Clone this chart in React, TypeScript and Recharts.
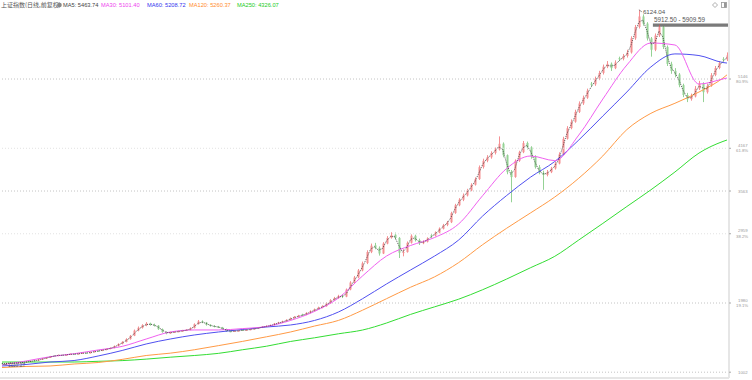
import React from "react";
import {
  Bar,
  ComposedChart,
  Line,
  ReferenceArea,
  ReferenceDot,
  ReferenceLine,
  XAxis,
  YAxis,
} from "recharts";

// [open, high, low, close]
const candles: [number, number, number, number][] = [
  [1130, 1138, 1110.27, 1120], [1120, 1134, 1116, 1128], [1127, 1141, 1122, 1135], [1136, 1140, 1121, 1126],
  [1126, 1143, 1123, 1138], [1146, 1149, 1132, 1142], [1141, 1156, 1137, 1150], [1150, 1166, 1145, 1160],
  [1170, 1175, 1158, 1166], [1166, 1186, 1161, 1180], [1180, 1200, 1175, 1195], [1196, 1214, 1189, 1208],
  [1208, 1232, 1203, 1226], [1238, 1241, 1220, 1234], [1233, 1252, 1228, 1245], [1246, 1250, 1231, 1238],
  [1238, 1258, 1234, 1252], [1252, 1267, 1246, 1260], [1262, 1266, 1248, 1254], [1254, 1274, 1250, 1268],
  [1268, 1282, 1263, 1275], [1277, 1281, 1263, 1270], [1270, 1294, 1266, 1288], [1288, 1302, 1283, 1296],
  [1308, 1312, 1290, 1305], [1305, 1325, 1300, 1318], [1318, 1337, 1312, 1330], [1331, 1352, 1325, 1345],
  [1345, 1380, 1340, 1372], [1372, 1410, 1366, 1400], [1402, 1440, 1395, 1430], [1430, 1482, 1424, 1470],
  [1470, 1528, 1462, 1515], [1518, 1605, 1512, 1590], [1592, 1648, 1580, 1630], [1630, 1680, 1618, 1665],
  [1666, 1710, 1652, 1690], [1692, 1702, 1660, 1672], [1670, 1688, 1648, 1660], [1660, 1668, 1600, 1610],
  [1612, 1620, 1560, 1570], [1570, 1580, 1538, 1550], [1550, 1575, 1544, 1565], [1566, 1584, 1556, 1575],
  [1576, 1590, 1568, 1580], [1580, 1600, 1574, 1590], [1590, 1610, 1584, 1600], [1600, 1636, 1595, 1625],
  [1626, 1692, 1620, 1680], [1682, 1740, 1675, 1720], [1722, 1735, 1695, 1705], [1705, 1712, 1660, 1670],
  [1672, 1680, 1645, 1655], [1655, 1668, 1636, 1645], [1648, 1656, 1626, 1635], [1636, 1642, 1600, 1610],
  [1610, 1618, 1570, 1580], [1580, 1592, 1568, 1578], [1578, 1595, 1572, 1585], [1586, 1598, 1578, 1590],
  [1602, 1608, 1584, 1598], [1599, 1612, 1588, 1600], [1600, 1620, 1594, 1610], [1610, 1628, 1604, 1620],
  [1620, 1640, 1615, 1632], [1632, 1652, 1626, 1645], [1645, 1664, 1638, 1655], [1656, 1676, 1650, 1668],
  [1668, 1698, 1662, 1690], [1692, 1714, 1684, 1705], [1704, 1730, 1698, 1720], [1720, 1750, 1714, 1740],
  [1740, 1775, 1734, 1765], [1765, 1796, 1758, 1785], [1786, 1812, 1778, 1800], [1820, 1828, 1796, 1815],
  [1815, 1850, 1808, 1840], [1840, 1876, 1832, 1865], [1866, 1902, 1858, 1890], [1890, 1928, 1882, 1915],
  [1918, 1948, 1905, 1935], [1935, 1988, 1928, 1975], [1976, 2034, 1968, 2020], [2020, 2066, 2010, 2050],
  [2050, 2096, 2040, 2080], [2082, 2100, 2050, 2070], [2070, 2185, 2062, 2170], [2172, 2288, 2160, 2270],
  [2270, 2362, 2258, 2340], [2342, 2460, 2330, 2440], [2440, 2565, 2428, 2540], [2545, 2725, 2530, 2700],
  [2700, 2820, 2685, 2790], [2795, 2830, 2740, 2760], [2760, 2780, 2650, 2680], [2680, 2840, 2672, 2820],
  [2820, 2925, 2810, 2900], [2902, 2980, 2890, 2940], [2945, 2975, 2880, 2900], [2900, 2912, 2616, 2690],
  [2688, 2740, 2640, 2700], [2700, 2850, 2692, 2830], [2832, 2950, 2820, 2930], [2930, 2945, 2850, 2870],
  [2870, 2890, 2800, 2825], [2825, 2866, 2812, 2845], [2845, 2908, 2836, 2890], [2938, 2956, 2900, 2930],
  [2932, 2992, 2922, 2975], [2976, 3048, 2966, 3030], [3030, 3098, 3020, 3080], [3082, 3140, 3066, 3120],
  [3122, 3270, 3110, 3250], [3252, 3382, 3240, 3360], [3362, 3462, 3348, 3440], [3440, 3528, 3420, 3500],
  [3500, 3594, 3486, 3570], [3572, 3672, 3560, 3650], [3652, 3756, 3640, 3730], [3732, 3924, 3720, 3900],
  [3902, 4020, 3880, 3990], [3992, 4070, 3970, 4040], [4040, 4124, 4020, 4100], [4102, 4178, 4080, 4150],
  [4150, 4335, 4135, 4230], [4232, 4250, 4040, 4070], [4070, 4080, 3800, 3830], [3830, 3860, 3404, 3760],
  [3762, 4010, 3750, 3990], [3990, 4132, 3975, 4110], [4112, 4270, 4098, 4240], [4242, 4262, 4150, 4180],
  [4180, 4196, 4020, 4050], [4050, 4068, 3880, 3900], [3902, 3930, 3800, 3820], [3820, 3850, 3580, 3790],
  [3790, 3860, 3770, 3830], [3830, 3904, 3816, 3880], [3882, 3978, 3866, 3950], [3952, 4110, 3940, 4080],
  [4082, 4330, 4070, 4300], [4302, 4480, 4290, 4450], [4452, 4575, 4436, 4540], [4542, 4712, 4528, 4680],
  [4682, 4830, 4666, 4800], [4802, 4912, 4780, 4880], [4882, 5010, 4866, 4980], [5080, 5104, 5040, 5070],
  [5072, 5180, 5050, 5150], [5152, 5262, 5130, 5230], [5232, 5350, 5210, 5320], [5322, 5400, 5300, 5360],
  [5362, 5380, 5260, 5300], [5300, 5410, 5286, 5380], [5440, 5462, 5400, 5430], [5432, 5500, 5410, 5470],
  [5472, 5560, 5450, 5520], [5522, 5750, 5506, 5720], [5722, 5910, 5700, 5880], [5882, 6124.04, 5860, 6030],
  [6030, 6060, 5900, 5930], [5930, 5950, 5690, 5720], [5720, 5740, 5462, 5560], [5560, 5790, 5540, 5760],
  [5762, 5912.5, 5740, 5880], [5880, 5896, 5570, 5600], [5600, 5620, 5330, 5360], [5360, 5390, 5220, 5260],
  [5262, 5300, 5170, 5210], [5210, 5230, 5030, 5060], [5060, 5080, 4890, 4920], [4920, 4950, 4820, 4860],
  [4862, 4940, 4840, 4900], [4900, 5046, 4886, 5010], [5012, 5120, 4990, 5080], [5080, 5100, 4820, 4960],
  [4960, 5080, 4940, 5050], [5052, 5230, 5036, 5200], [5202, 5330, 5186, 5300], [5302, 5400, 5284, 5370],
  [5430, 5455, 5395, 5420], [5422, 5522, 5400, 5480],
];

const ma5 = [
  1122, 1125, 1130, 1131, 1133, 1139, 1145, 1153, 1162, 1172, 1186, 1200, 1216, 1229, 1240, 1242,
  1246, 1255, 1257, 1261, 1270, 1272, 1279, 1291, 1300, 1311, 1323, 1337, 1357, 1385, 1414, 1450,
  1490, 1548, 1605, 1645, 1675, 1680, 1668, 1640, 1598, 1565, 1560, 1568, 1576, 1585, 1595, 1610,
  1648, 1695, 1710, 1690, 1664, 1650, 1640, 1622, 1598, 1582, 1582, 1587, 1594, 1599, 1605, 1615,
  1626, 1638, 1650, 1661, 1678, 1697, 1712, 1730, 1752, 1775, 1792, 1807, 1827, 1852, 1877, 1902,
  1925, 1955, 1995, 2035, 2064, 2075, 2115, 2210, 2300, 2390, 2490, 2610, 2740, 2775, 2725, 2750,
  2860, 2920, 2920, 2800, 2700, 2760, 2880, 2900, 2850, 2835, 2865, 2910, 2952, 3000, 3055, 3100,
  3180, 3300, 3400, 3470, 3535, 3610, 3690, 3810, 3940, 4015, 4070, 4125, 4190, 4150, 3950, 3800,
  3870, 4050, 4170, 4210, 4120, 3980, 3860, 3805, 3810, 3855, 3915, 4010, 4190, 4370, 4490, 4610,
  4740, 4840, 4930, 5025, 5110, 5190, 5275, 5340, 5330, 5340, 5400, 5450, 5495, 5620, 5800, 5950,
  5980, 5830, 5640, 5660, 5820, 5740, 5480, 5310, 5235, 5135, 4990, 4890, 4880, 4950, 5045, 5020,
  5005, 5125, 5250, 5335, 5395, 5450,
];

// longer averages, read every 6th candle
const maIdx = [
  0, 6, 12, 18, 24, 30, 36, 42, 48, 54, 60, 66, 72, 78, 84, 90, 96, 102, 108, 114, 120, 126, 132,
  138, 144, 150, 156, 162, 168, 174, 180, 181,
];
const ma30 = [
  1104, 1160, 1221, 1263, 1316, 1367, 1471, 1570, 1599, 1599, 1618, 1648, 1733, 1861, 2051, 2362,
  2644, 2793, 2906, 3097, 3498, 3882, 4058, 3993, 4354, 4863, 5344, 5655, 5627, 5075, 5147, 5160,
];
const ma60 = [
  1090, 1111, 1146, 1167, 1231, 1309, 1401, 1471, 1528, 1570, 1606, 1641, 1669, 1733, 1853, 2040,
  2249, 2447, 2644, 2870, 3210, 3500, 3761, 3980, 4284, 4623, 4963, 5317, 5501, 5478, 5379, 5372,
];
const ma120 = [
  1068, 1083, 1090, 1118, 1139, 1183, 1238, 1271, 1319, 1377, 1437, 1502, 1570, 1654, 1734, 1878,
  2041, 2203, 2350, 2551, 2805, 3037, 3255, 3478, 3744, 4059, 4431, 4661, 4803, 4962, 5160, 5205,
];
const ma250 = [
  1146, 1146, 1146, 1146, 1156, 1166, 1187, 1214, 1238, 1268, 1319, 1369, 1436, 1488, 1545, 1598,
  1697, 1819, 1926, 2034, 2168, 2319, 2480, 2640, 2871, 3105, 3344, 3580, 3832, 4099, 4264, 4284,
];

const fibTicks = [1002, 1980, 2959, 3563, 4167, 5146];
const fibPct: Record<number, string> = {
  1980: "19.1%",
  2959: "38.2%",
  4167: "61.8%",
  5146: "80.9%",
};

const legend = [
  { text: "MA5: 5463.74", color: "#444", x: 63 },
  { text: "MA30: 5101.40", color: "#ee44ee", x: 101 },
  { text: "MA60: 5208.72", color: "#3333ee", x: 147 },
  { text: "MA120: 5260.37", color: "#ff8c2e", x: 189 },
  { text: "MA250: 4326.07", color: "#22cc22", x: 237 },
];

const data = candles.map(([o, h, l, c], i) => {
  const row: Record<string, number> = { i, o, h, l, c, ma5: ma5[i] };
  const k = maIdx.indexOf(i);
  if (k >= 0) {
    row.ma30 = ma30[k];
    row.ma60 = ma60[k];
    row.ma120 = ma120[k];
    row.ma250 = ma250[k];
  }
  return row;
});

const labelFont = { fontFamily: "Liberation Sans, Arial", fill: "#555" };

function Candle(props: any) {
  const { x, y, width, height, payload } = props;
  const { o, h, l, c } = payload;
  const top = Math.min(y, y + height);
  const span = Math.abs(height);
  const k = h - l > 0 ? span / (h - l) : 0;
  const yo = top + (h - o) * k;
  const yc = top + (h - c) * k;
  const up = c >= o;
  const color = up ? "#f0474c" : "#3fae3f";
  const cx = Math.round(x + width / 2) + 0.5;
  return (
    <g opacity={up ? 0.6 : 0.55}>
      <line x1={cx} x2={cx} y1={top} y2={top + span} stroke={color} strokeWidth={1} />
      <rect
        x={cx - 1}
        y={Math.min(yo, yc)}
        width={2}
        height={Math.max(1, Math.abs(yo - yc))}
        fill={color}
      />
    </g>
  );
}

function FibTick(props: any) {
  const { x, y, payload } = props;
  const pct = fibPct[payload.value];
  const style = { fontSize: 4.3, fill: "#999", fontFamily: "Liberation Sans, Arial" };
  if (!pct) {
    return (
      <text x={x + 5} y={y + 1.5} style={style}>
        {payload.value}
      </text>
    );
  }
  return (
    <g>
      <text x={x + 5} y={y - 1.5} style={style}>
        {payload.value}
      </text>
      <text x={x + 3} y={y + 4} style={style}>
        {pct}
      </text>
    </g>
  );
}

const lineProps = {
  strokeWidth: 1,
  dot: false,
  activeDot: false,
  connectNulls: true,
  isAnimationActive: false,
} as const;

export default function App() {
  return (
    <div style={{ position: "relative", width: 752, height: 380, background: "#fff" }}>
      <style>{"body{margin:0}"}</style>
      <ComposedChart
        width={752}
        height={380}
        data={data}
        margin={{ top: 0, right: 0, bottom: 2, left: 0 }}
        barCategoryGap={0}
      >
        <XAxis dataKey="i" hide />
        <YAxis
          orientation="right"
          width={23}
          type="number"
          domain={[920, 6263]}
          allowDataOverflow
          ticks={fibTicks}
          interval={0}
          tick={<FibTick />}
          tickSize={2}
          tickLine={{ stroke: "#aaa" }}
          axisLine={{ stroke: "#e6e6e6", strokeWidth: 2 }}
        />
        {fibTicks.map((v) => (
          <ReferenceLine
            key={v}
            y={v}
            stroke={v === 4167 || v === 2959 ? "#e2e2e2" : "#c4c4c4"}
            strokeDasharray="1 2"
          />
        ))}
        <ReferenceLine y={920} stroke="#e6e6e6" strokeWidth={2} />
        <Bar
          dataKey={(d: any) => [d.l, d.h]}
          shape={<Candle />}
          activeBar={false}
          isAnimationActive={false}
        />
        <Line type="monotone" dataKey="ma250" stroke="#33dd33" {...lineProps} />
        <Line type="monotone" dataKey="ma120" stroke="#ff9a45" {...lineProps} />
        <Line type="monotone" dataKey="ma60" stroke="#5050f0" {...lineProps} />
        <Line type="monotone" dataKey="ma30" stroke="#f060f0" {...lineProps} />
        <Line dataKey="ma5" stroke="#333" {...lineProps} strokeWidth={0.8} strokeDasharray="1 1" />
        <ReferenceArea x1={163} x2={181} y1={5886} y2={5930} fill="#7a7a7a" fillOpacity={1} stroke="none" />
        <ReferenceDot
          x={163}
          y={5912.5}
          r={0}
          shape={(p: any) => (
            <text x={p.cx - 1} y={p.cy - 3} style={{ ...labelFont, fontSize: 6.3 }}>
              5912.50 - 5909.59
            </text>
          )}
        />
        <ReferenceDot
          x={159}
          y={6124.04}
          r={0}
          shape={(p: any) => (
            <g>
              <line x1={p.cx} y1={p.cy} x2={p.cx + 3} y2={p.cy + 2} stroke="#777" strokeWidth={0.8} />
              <text x={p.cx + 4} y={p.cy + 4} style={{ ...labelFont, fontSize: 6.2 }}>
                6124.04
              </text>
            </g>
          )}
        />
        <ReferenceDot
          x={0}
          y={1110.27}
          r={0}
          ifOverflow="visible"
          shape={(p: any) => (
            <g>
              <line x1={p.cx + 1} y1={p.cy} x2={p.cx + 5} y2={p.cy} stroke="#777" strokeWidth={0.8} />
              <text x={p.cx + 6} y={p.cy + 2.5} style={{ ...labelFont, fontSize: 5 }}>
                1110.27
              </text>
            </g>
          )}
        />
      </ComposedChart>
      <svg
        width={752}
        height={12}
        style={{ position: "absolute", left: 0, top: 0, pointerEvents: "none" }}
      >
        <text x={1} y={7} style={{ fontSize: 6, fill: "#555", fontFamily: "Noto Sans CJK SC" }}>
          上证指数(日线,前复权)
        </text>
        <circle cx={59.5} cy={5} r={2.3} fill="#888" />
        {legend.map((l) => (
          <text
            key={l.text}
            x={l.x}
            y={7}
            style={{ fontSize: 5.7, fill: l.color, fontFamily: "Liberation Sans, Arial" }}
          >
            {l.text}
          </text>
        ))}
        <path d="M715 2.5 L717.5 5 L715 7.5 L712.5 5 Z" fill="none" stroke="#999" strokeWidth={0.8} />
        <rect x={721.5} y={2.5} width={5} height={5} fill="none" stroke="#999" strokeWidth={0.8} />
        <rect x={724} y={2.5} width={2.5} height={5} fill="#999" />
      </svg>
    </div>
  );
}
